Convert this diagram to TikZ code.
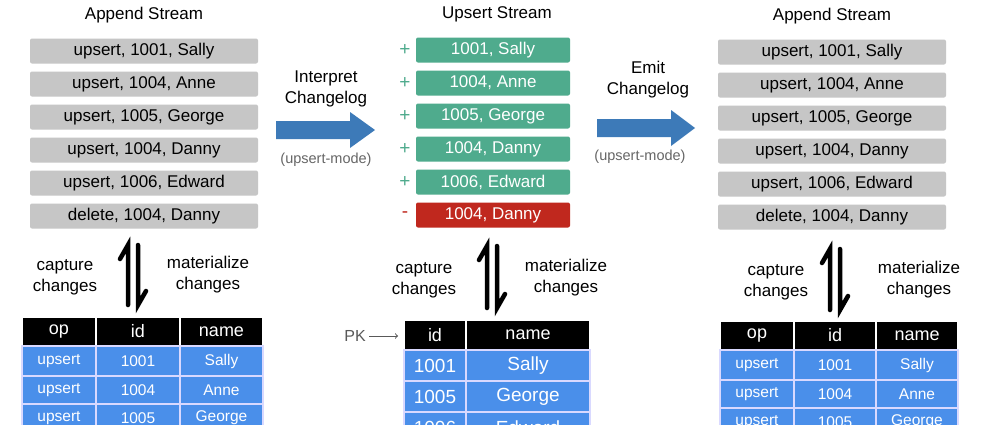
\documentclass[tikz,border=0pt]{standalone}
\usepackage{fontspec}
\setmainfont{Liberation Sans}
\begin{document}
\begin{tikzpicture}[x=1pt,y=-1pt,
  gbox/.style={fill=gray!45,rounded corners=2pt,minimum width=228pt,minimum height=25pt,inner sep=0pt,font=\fontsize{17}{18}\selectfont},
  ubox/.style={fill={rgb,255:red,79;green,171;blue,141},rounded corners=2pt,minimum width=154pt,minimum height=25pt,inner sep=0pt,text=white,font=\fontsize{17}{18}\selectfont},
  dbox/.style={ubox,fill={rgb,255:red,192;green,40;blue,30}},
  sign/.style={text={rgb,255:red,79;green,171;blue,141},font=\fontsize{19}{20}\selectfont},
  ttl/.style={font=\fontsize{17}{18}\selectfont},
  lbl/.style={font=\fontsize{17}{21}\selectfont,align=center},
  sm/.style={font=\fontsize{14.5}{16}\selectfont,text=gray!80!black},
  bigarrow/.style={fill={rgb,255:red,61;green,122;blue,184}},
  hd/.style={fill=black,draw=white,line width=1.5pt},
  cl/.style={fill={rgb,255:red,74;green,143;blue,234},draw=white!85!blue,line width=1.5pt},
  ht/.style={text=white,font=\fontsize{18}{19}\selectfont},
  st/.style={text=white,font=\fontsize{15.5}{16}\selectfont},
  bt/.style={text=white,font=\fontsize{19}{20}\selectfont},
  harp/.style={line width=4.5pt,line cap=round}]
\useasboundingbox (0,0) rectangle (998,424);
\clip (0,0) rectangle (998,424);
\fill[white] (0,0) rectangle (998,424);
% Left stream
\node[ttl] (t1) at (144,15) {Append Stream};
\foreach \y/\t [count=\i] in {51/{upsert, 1001, Sally},84/{upsert, 1004, Anne},117/{upsert, 1005, George},150/{upsert, 1004, Danny},183/{upsert, 1006, Edward},216/{delete, 1004, Danny}}
  \node[gbox] (l\i) at (144,\y) {\t};
% Middle stream
\node[ttl] (t2) at (497,14) {Upsert Stream};
\foreach \y/\t [count=\i] in {50/{1001, Sally},83/{1004, Anne},116/{1005, George},149/{1004, Danny},182/{1006, Edward}}{
  \node[ubox] (m\i) at (493,\y) {\t};
  \node[sign] (p\i) at (405,\y) {+};}
\node[dbox] (m6) at (493,215) {1004, Danny};
\node[sign,text={rgb,255:red,192;green,40;blue,30}] (p6) at (405,215) {-};
% Right stream
\node[ttl] (t3) at (832,16) {Append Stream};
\foreach \y/\t [count=\i] in {52/{upsert, 1001, Sally},85/{upsert, 1004, Anne},118/{upsert, 1005, George},151/{upsert, 1004, Danny},184/{upsert, 1006, Edward},217/{delete, 1004, Danny}}
  \node[gbox] (r\i) at (832,\y) {\t};
% Big arrows
\fill[bigarrow] (276,121) -- (350,121) -- (350,112) -- (375,130) -- (350,148) -- (350,139) -- (276,139) -- cycle;
\node[lbl] (a1) at (326,89) {Interpret\\Changelog};
\node[sm] (a1s) at (326,160) {(upsert-mode)};
\fill[bigarrow] (597,119) -- (671,119) -- (671,110) -- (695,128) -- (671,146) -- (671,137) -- (597,137) -- cycle;
\node[lbl] (a2) at (648,80) {Emit\\Changelog};
\node[sm] (a2s) at (640,157) {(upsert-mode)};
% harpoons
\foreach \x/\yt/\yb in {133/245/305, 492/246/308, 835/249/310}{
  \draw[harp] (\x-5,\yb) -- (\x-5,\yt) -- (\x-13,\yt+14);
  \draw[harp] (\x+5,\yt) -- (\x+5,\yb) -- (\x+13,\yb-14);}
\node[lbl] (c1) at (65,277) {capture\\changes};
\node[lbl] (z1) at (208,275) {materialize\\changes};
\node[lbl] (c2) at (424,280) {capture\\changes};
\node[lbl] (z2) at (566,278) {materialize\\changes};
\node[lbl] (c3) at (776,282) {capture\\changes};
\node[lbl] (z3) at (919,280) {materialize\\changes};
% Left table
\foreach \xa/\xb/\t [count=\i] in {22/96/op,96/180/id,180/263/name}{
  \path[hd] (\xa,317) rectangle (\xb,346); \node[ht] (lh\i) at ({(\xa+\xb)/2},331.5) {\t};}
\foreach \ya/\yb/\a/\b [count=\j] in {346/376/1001/Sally,376/404/1004/Anne,404/432/1005/George}{
  \path[cl] (22,\ya) rectangle (96,\yb); \path[cl] (96,\ya) rectangle (180,\yb); \path[cl] (180,\ya) rectangle (263,\yb);
  \node[st] (la\j) at (59,{(\ya+\yb)/2}) {upsert};
  \node[st] (lb\j) at (138,{(\ya+\yb)/2}) {\a};
  \node[st] (lc\j) at (221.5,{(\ya+\yb)/2}) {\b};}
% Middle table
\path[hd] (404,320) rectangle (466,350); \node[ht] (mh1) at (435,335) {id};
\path[hd] (466,320) rectangle (590,350); \node[ht] (mh2) at (528,335) {name};
\node[font=\fontsize{16}{17}\selectfont,text=gray!70!black] (pk) at (355,336) {PK};
\draw[->,gray!70!black,line width=1pt] (pk) -- (398,336);
\foreach \ya/\yb/\a/\b [count=\j] in {350/381/1001/Sally,381/412/1005/George,412/443/1006/Edward}{
  \path[cl] (404,\ya) rectangle (466,\yb); \path[cl] (466,\ya) rectangle (590,\yb);
  \node[bt] (ma\j) at (435,{(\ya+\yb)/2}) {\a};
  \node[bt] (mb\j) at (528,{(\ya+\yb)/2}) {\b};}
% Right table
\foreach \xa/\xb/\t [count=\i] in {720/794/op,794/876/id,876/958/name}{
  \path[hd] (\xa,321) rectangle (\xb,350); \node[ht] (rh\i) at ({(\xa+\xb)/2},335.5) {\t};}
\foreach \ya/\yb/\a/\b [count=\j] in {350/380/1001/Sally,380/408/1004/Anne,408/436/1005/George}{
  \path[cl] (720,\ya) rectangle (794,\yb); \path[cl] (794,\ya) rectangle (876,\yb); \path[cl] (876,\ya) rectangle (958,\yb);
  \node[st] (ra\j) at (757,{(\ya+\yb)/2}) {upsert};
  \node[st] (rb\j) at (835,{(\ya+\yb)/2}) {\a};
  \node[st] (rc\j) at (917,{(\ya+\yb)/2}) {\b};}
\end{tikzpicture}
\end{document}
